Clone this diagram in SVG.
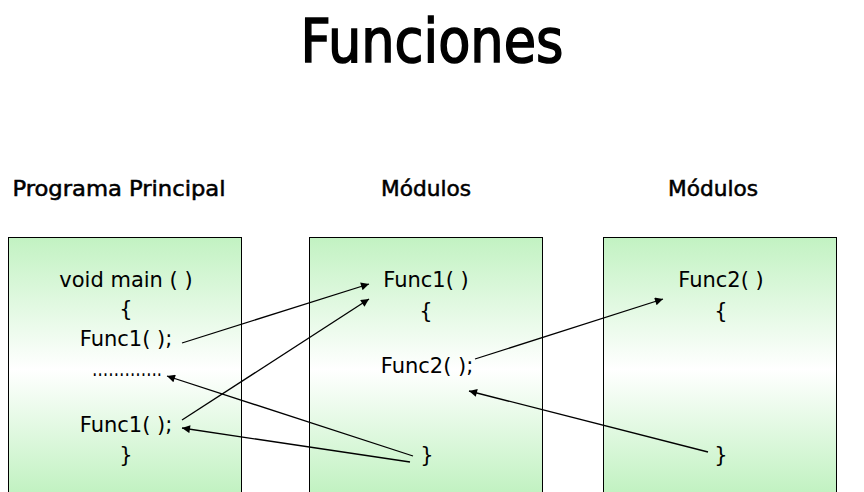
<svg xmlns="http://www.w3.org/2000/svg" width="864" height="492" viewBox="0 0 864 492">
<defs>
<linearGradient id="g" gradientUnits="userSpaceOnUse" x1="0" y1="237" x2="0" y2="492">
<stop offset="0" stop-color="#c2f2c2"/>
<stop offset="0.52" stop-color="#ffffff"/>
<stop offset="1" stop-color="#c2f2c2"/>
</linearGradient>
<marker id="ah" viewBox="0 0 10 10" refX="10" refY="5" markerWidth="10" markerHeight="8" markerUnits="userSpaceOnUse" orient="auto">
<path d="M0,0 L10,5 L0,10 z" fill="#000"/>
</marker>
</defs>
<style>
.box{fill:url(#g);stroke:#000;stroke-width:1}
.t{font-family:"DejaVu Sans",sans-serif;font-size:21px;fill:#000;text-anchor:middle}
.h{font-family:"DejaVu Sans Condensed","DejaVu Sans",sans-serif;font-size:22px;fill:#000;stroke:#000;stroke-width:0.5;text-anchor:middle}
.c{stroke:#000;stroke-width:1.3;fill:none;marker-end:url(#ah)}
</style>
<rect width="864" height="492" fill="#fff"/>
<text x="432" y="62" font-family="DejaVu Sans, sans-serif" font-size="60" fill="#000" stroke="#000" stroke-width="1.6" text-anchor="middle" textLength="263" lengthAdjust="spacingAndGlyphs">Funciones</text>
<text class="h" x="119" y="196" textLength="213" lengthAdjust="spacingAndGlyphs">Programa Principal</text>
<text class="h" x="426" y="196" textLength="90" lengthAdjust="spacingAndGlyphs">Módulos</text>
<text class="h" x="713" y="196" textLength="90" lengthAdjust="spacingAndGlyphs">Módulos</text>
<g id="principal">
<rect class="box" x="8.5" y="237.5" width="233" height="260"/>
<text class="t" x="126" y="287">void main ( )</text>
<text class="t" x="126" y="316">{</text>
<text class="t" x="126" y="346">Func1( );</text>
<text class="t" x="127" y="376" textLength="70" lengthAdjust="spacingAndGlyphs">………….</text>
<text class="t" x="126" y="432">Func1( );</text>
<text class="t" x="126" y="462">}</text>
</g>
<g id="modulo1">
<rect class="box" x="309.5" y="237.5" width="233" height="260"/>
<text class="t" x="426" y="287">Func1( )</text>
<text class="t" x="426" y="318">{</text>
<text class="t" x="427" y="373">Func2( );</text>
<text class="t" x="427" y="462">}</text>
</g>
<g id="modulo2">
<rect class="box" x="603.5" y="237.5" width="233" height="260"/>
<text class="t" x="721" y="287">Func2( )</text>
<text class="t" x="721" y="318">{</text>
<text class="t" x="721" y="462">}</text>
</g>
<g id="connectors">
<line class="c" x1="182" y1="343" x2="369" y2="284"/>
<line class="c" x1="182" y1="420" x2="369" y2="299"/>
<line class="c" x1="413" y1="456" x2="167" y2="376"/>
<line class="c" x1="410" y1="462" x2="182" y2="428"/>
<line class="c" x1="475" y1="359" x2="663" y2="299"/>
<line class="c" x1="708" y1="452" x2="469" y2="391"/>
</g>
</svg>
